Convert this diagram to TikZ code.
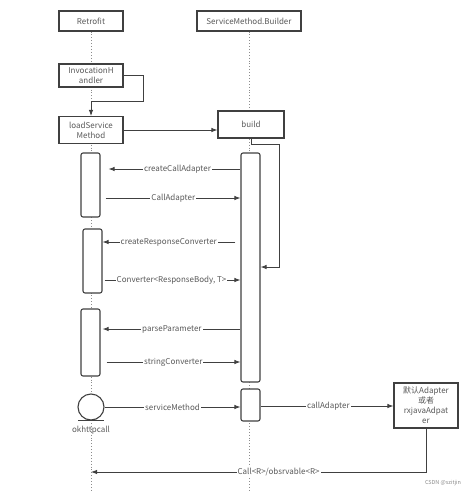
\documentclass[tikz,border=0pt]{standalone}
\usepackage{fontspec}
\setmainfont{Noto Sans CJK SC}
\usepackage{tikz}
\usetikzlibrary{arrows.meta,backgrounds}
\definecolor{Micolor1}{gray}{0.25}
\definecolor{Micolor2}{gray}{0.35}
\definecolor{Micolor3}{gray}{0.55}

\begin{document}
\begin{tikzpicture}[x=1pt,y=-1pt,
 caja/.style={draw=Micolor1,line width=1.1pt,fill=white,text=Micolor2,font=\fontsize{8}{10}\selectfont,align=center,inner sep=1pt},
 activ/.style={draw=Micolor1,line width=1.1pt,fill=white,rounded corners=2pt,minimum width=19pt},
 msg/.style={draw=Micolor1,line width=0.9pt,-{Latex[length=6pt,width=4.5pt]}},
 etiq/.style={fill=white,text=Micolor2,font=\fontsize{8}{10}\selectfont,inner sep=1pt},
 vida/.style={draw=Micolor3,dotted,line width=0.9pt}]
\useasboundingbox (0,0) rectangle (474,493);

% cabeceras
\node[caja,minimum width=64pt,minimum height=20pt] (retrofit) at (91,21) {Retrofit};
\node[caja,minimum width=104pt,minimum height=20pt] (builder) at (249,21) {ServiceMethod.Builder};
\node[caja,minimum width=64pt,minimum height=23pt] (handler) at (91,75.5) {InvocationH\\andler};
\node[caja,minimum width=64pt,minimum height=27pt] (load) at (91,130) {loadService\\Method};
\node[caja,minimum width=66pt,minimum height=27pt] (build) at (251,124.5) {build};

% activaciones
\node[activ,minimum height=64pt] (actA) at (90.5,185) {};
\node[activ,minimum height=64pt] (actB) at (92.5,261) {};
\node[activ,minimum height=67pt] (actC) at (90.5,342.5) {};
\node[activ,minimum height=229pt] (actD) at (250.5,267.5) {};
\node[activ,minimum height=32pt] (actE) at (250.5,405) {};

\node[circle,draw=Micolor1,line width=1.1pt,fill=white,minimum size=26pt] (okhttp) at (91,407) {};
\draw[Micolor1,line width=1.1pt] ([xshift=-13pt]okhttp.south) -- ([xshift=13pt]okhttp.south);
\node[text=Micolor2,font=\fontsize{8}{10}\selectfont] (okhttplab) at (91,430) {okhttpcall};
\node[caja,minimum width=64pt,minimum height=45pt] (adapter) at (426,405.5) {默认Adapter\\或者\\rxjavaAdpat\\er};

\node[text=Micolor3,font=\fontsize{5.5}{6}\selectfont] (marca) at (443,483) {CSDN @szitjin};

% lineas de vida
\coordinate (fin) at (0,490);
\begin{scope}[on background layer]
\draw[vida] (retrofit.south) -- (retrofit.south |- fin);
\draw[vida] (builder.south) -- (builder.south |- fin);
\end{scope}

% mensajes
\coordinate (m1) at (0,169);
\coordinate (m2) at (0,198);
\coordinate (m3) at (0,242);
\coordinate (m4) at (0,280);
\coordinate (m5) at (0,329);
\coordinate (m6) at (0,362);
\coordinate (m7) at (0,406);
\coordinate (m9) at (0,472);
\coordinate (lazo) at (279,267);

\draw[msg] (handler.east) -| ++(20,26) -| (load.north);
\draw[msg] (load.east) -- (build.west |- load.east);
\draw[msg] (build.south) -- ++(0,6) -| (lazo) -- (actD.east |- lazo);

\draw[msg,shorten >=8pt] (actD.west |- m1) -- node[etiq,pos=0.45] {createCallAdapter} (actA.east |- m1);
\draw[msg,shorten <=5pt] (actA.east |- m2) -- node[etiq,pos=0.52] {CallAdapter} (actD.west |- m2);
\draw[msg,shorten <=5pt] (actD.west |- m3) -- node[etiq,pos=0.52] {createResponseConverter} (actB.east |- m3);
\draw[msg,shorten <=2pt] (actB.east |- m4) -- node[etiq,pos=0.5] {Converter<ResponseBody, T>} (actD.west |- m4);
\draw[msg,shorten >=2pt] (actD.west |- m5) -- node[etiq,pos=0.49] {parseParameter} (actC.east |- m5);
\draw[msg,shorten <=6pt] (actC.east |- m6) -- node[etiq,pos=0.52] {stringConverter} (actD.west |- m6);
\draw[msg] (okhttp.east) -- node[etiq,pos=0.5] {serviceMethod} (actE.west |- okhttp.east);
\draw[msg] (actE.east |- m7) -- node[etiq,pos=0.51] {callAdapter} (adapter.west |- m7);
\draw[msg] (adapter.south) |- node[etiq,pos=0.72] {Call<R>/obsrvable<R>} (retrofit.south |- m9);
\end{tikzpicture}
\end{document}
